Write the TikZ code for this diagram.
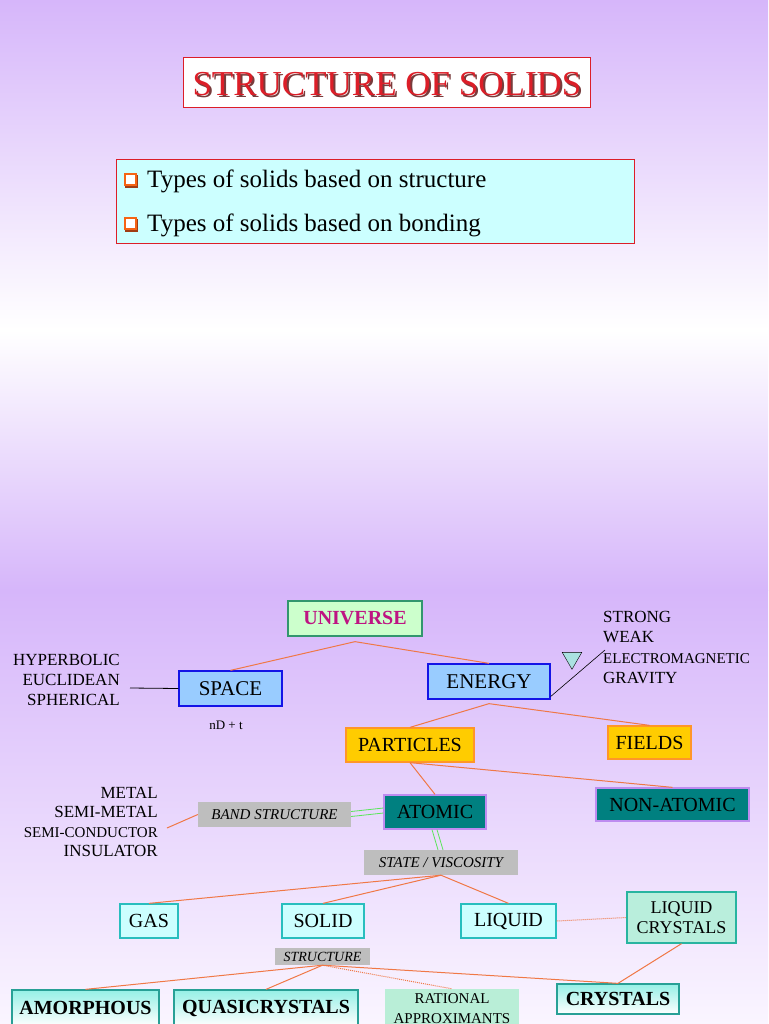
\documentclass[tikz,border=0pt]{standalone}
\usepackage{fontspec}
\setmainfont{Liberation Serif}
\usetikzlibrary{shapes.geometric}
\definecolor{lav}{RGB}{214,182,250}
\definecolor{bord}{RGB}{220,30,40}
\definecolor{lnk}{RGB}{240,120,70}
\begin{document}
\begin{tikzpicture}[x=1pt,y=-1pt,
 bx/.style={draw,line width=1.3pt,inner sep=0pt,align=center,font=\fontsize{20}{22}\selectfont},
 blue/.style={bx,fill={rgb,255:red,153;green,204;blue,255},draw={rgb,255:red,20;green,20;blue,230}},
 gold/.style={bx,fill={rgb,255:red,255;green,204;blue,0},draw={rgb,255:red,255;green,150;blue,40}},
 teal/.style={bx,fill={rgb,255:red,0;green,128;blue,128},draw={rgb,255:red,190;green,140;blue,240}},
 cyan/.style={bx,fill={rgb,255:red,204;green,255;blue,255},draw={rgb,255:red,40;green,190;blue,190}},
 mint/.style={bx,fill={rgb,255:red,185;green,238;blue,220},draw={rgb,255:red,40;green,180;blue,160}},
 grad/.style={bx,top color={rgb,255:red,150;green,240;blue,230},bottom color=white,draw={rgb,255:red,40;green,160;blue,150},font=\bfseries\fontsize{20}{22}\selectfont},
 gray/.style={fill={rgb,255:red,190;green,190;blue,190},inner sep=0pt,font=\itshape\fontsize{15}{17}\selectfont},
 lab/.style={align=right,inner sep=0pt,font=\fontsize{17}{20}\selectfont},
 ln/.style={draw=lnk,line width=1pt},
 gr/.style={draw={rgb,255:red,90;green,230;blue,90},line width=0.8pt}]
\useasboundingbox (0,0) rectangle (768,1024);
\shade[top color=lav,bottom color=white] (0,0) rectangle (768,330);
\shade[top color=white,bottom color=lav] (0,330) rectangle (768,590);
\shade[top color=lav,bottom color={rgb,255:red,250;green,245;blue,255}] (0,590) rectangle (768,1024);
% title
\node[draw=bord,line width=1pt,fill=white,minimum width=407pt,minimum height=50pt,inner sep=0pt] (title) at (386.5,83) {};
\node[text={rgb,255:red,120;green,60;blue,60},font=\fontsize{35}{37}\selectfont] at (389,86) {STRUCTURE OF SOLIDS};
\node[text=bord,font=\fontsize{35}{37}\selectfont] (tt) at (387,84) {STRUCTURE OF SOLIDS};
\node[draw=bord,line width=1pt,fill={rgb,255:red,204;green,255;blue,255},minimum width=518pt,minimum height=83pt,inner sep=0pt] (bul) at (375,201.5) {};
\foreach \yy/\t in {180/Types of solids based on structure,224/Types of solids based on bonding}{
 \node[fill={rgb,255:red,160;green,60;blue,20},minimum size=13pt,inner sep=0pt] at (131.5,\yy+1.5) {};
 \node[draw={rgb,255:red,245;green,100;blue,20},fill=white,line width=2pt,minimum size=11pt,inner sep=0pt] at (130,\yy) {};
 \node[anchor=west,font=\fontsize{25}{27}\selectfont,inner sep=0pt] at (147,\yy+1) {\t};}
% nodes
\node[bx,fill={rgb,255:red,204;green,255;blue,204},draw={rgb,255:red,50;green,150;blue,110},minimum width=134pt,minimum height=35pt,text={rgb,255:red,190;green,20;blue,130},font=\bfseries\fontsize{20}{22}\selectfont] (uni) at (355,618.5) {UNIVERSE};
\node[blue,minimum width=103pt,minimum height=35pt,font=\fontsize{21}{23}\selectfont] (space) at (230.5,688.5) {SPACE};
\node[blue,minimum width=122pt,minimum height=35pt,font=\fontsize{21}{23}\selectfont] (energy) at (489,681.5) {ENERGY};
\node[gold,minimum width=128pt,minimum height=34pt] (part) at (410,745) {PARTICLES};
\node[gold,minimum width=83pt,minimum height=33pt] (fields) at (649.5,742.5) {FIELDS};
\node[teal,minimum width=102pt,minimum height=34pt] (atomic) at (435,812) {ATOMIC};
\node[teal,minimum width=153pt,minimum height=33pt] (nonat) at (672.5,804.5) {NON-ATOMIC};
\node[gray,minimum width=153pt,minimum height=25pt] (band) at (274.5,814.5) {BAND STRUCTURE};
\node[gray,minimum width=154pt,minimum height=25pt] (state) at (441,862.5) {STATE / VISCOSITY};
\node[cyan,minimum width=58pt,minimum height=34pt] (gas) at (149,921) {GAS};
\node[cyan,minimum width=82pt,minimum height=34pt] (solid) at (323,921) {SOLID};
\node[cyan,minimum width=95pt,minimum height=34pt] (liquid) at (508.5,921) {LIQUID};
\node[mint,minimum width=109pt,minimum height=51pt,font=\fontsize{18}{20}\selectfont] (lc) at (681.5,917.5) {LIQUID\\CRYSTALS};
\node[gray,minimum width=95pt,minimum height=17pt,font=\itshape\fontsize{14}{15}\selectfont] (struct) at (322.5,956.5) {STRUCTURE};
\node[grad,minimum width=147pt,minimum height=36pt] (amor) at (85.5,1008) {AMORPHOUS};
\node[grad,minimum width=184pt,minimum height=36pt] (quasi) at (266,1008) {QUASICRYSTALS};
\node[fill={rgb,255:red,185;green,238;blue,215},inner sep=0pt,minimum width=134pt,minimum height=40pt,align=center,font=\fontsize{15}{20}\selectfont] (rat) at (452,1009) {RATIONAL\\APPROXIMANTS};
\node[grad,minimum width=122pt,minimum height=30pt] (cryst) at (618,999) {CRYSTALS};
% side labels
\node[lab,anchor=north east] (hyp) at (120,654) {HYPERBOLIC\\EUCLIDEAN\\SPHERICAL};
\node[font=\fontsize{13}{15}\selectfont,inner sep=0pt] (nd) at (226,725) {nD + t};
\node[align=left,anchor=north west,inner sep=0pt,font=\fontsize{17}{20.5}\selectfont] (forces) at (603,611) {STRONG\\WEAK\\{\fontsize{15}{15}\selectfont ELECTROMAGNETIC}\\GRAVITY};
\node[lab,anchor=north east,font=\fontsize{17}{19.3}\selectfont] (met) at (158,787) {METAL\\SEMI-METAL\\{\fontsize{15}{15}\selectfont SEMI-CONDUCTOR}\\INSULATOR};
\node[isosceles triangle,shape border rotate=-90,isosceles triangle apex angle=60,draw,fill={rgb,255:red,170;green,225;blue,225},minimum width=18pt,minimum height=17pt,inner sep=0pt] (tri) at (572,658) {};
\coordinate (hypE) at (130,688);
\coordinate (metE) at (167,828);
\coordinate (triE) at (605,650);
% connectors
\draw[ln] (uni.south) ++(0,5) coordinate (u0) -- (space.north);
\draw[ln] (u0) -- (energy.north);
\draw[ln] (energy.south) ++(0,4) coordinate (e0) -- (part.north);
\draw[ln] (e0) -- (fields.north);
\draw[ln] (part.south) -- (atomic.north);
\draw[ln] (part.south) -- (nonat.north);
\draw[ln] (state.south) -- (gas.north);
\draw[ln] (state.south) -- (solid.north);
\draw[ln] (state.south) -- (liquid.north);
\draw[ln,densely dotted] (liquid.east) -- (lc.west);
\draw[ln] (lc.south) -- (cryst.north);
\draw[ln] (struct.south) -- (amor.north);
\draw[ln] (struct.south) -- (quasi.north);
\draw[ln,densely dotted] (struct.south) -- (rat.north);
\draw[ln] (struct.south) -- (cryst.north);
\draw[ln] (metE) -- (band.west);
\draw[black,line width=0.8pt] (hypE) -- (space.west);
\draw[black,line width=0.6pt] (energy.east) ++(0,15) -- (triE);
\draw[gr] ([yshift=-2pt]band.east) -- ([yshift=-1pt]atomic.west);
\draw[gr] ([yshift=3pt]band.east) -- ([yshift=4pt]atomic.west);
\draw[gr] ([xshift=-3pt]atomic.south) -- ([xshift=-3pt]state.north);
\draw[gr] ([xshift=2pt]atomic.south) -- ([xshift=2pt]state.north);
\end{tikzpicture}
\end{document}
